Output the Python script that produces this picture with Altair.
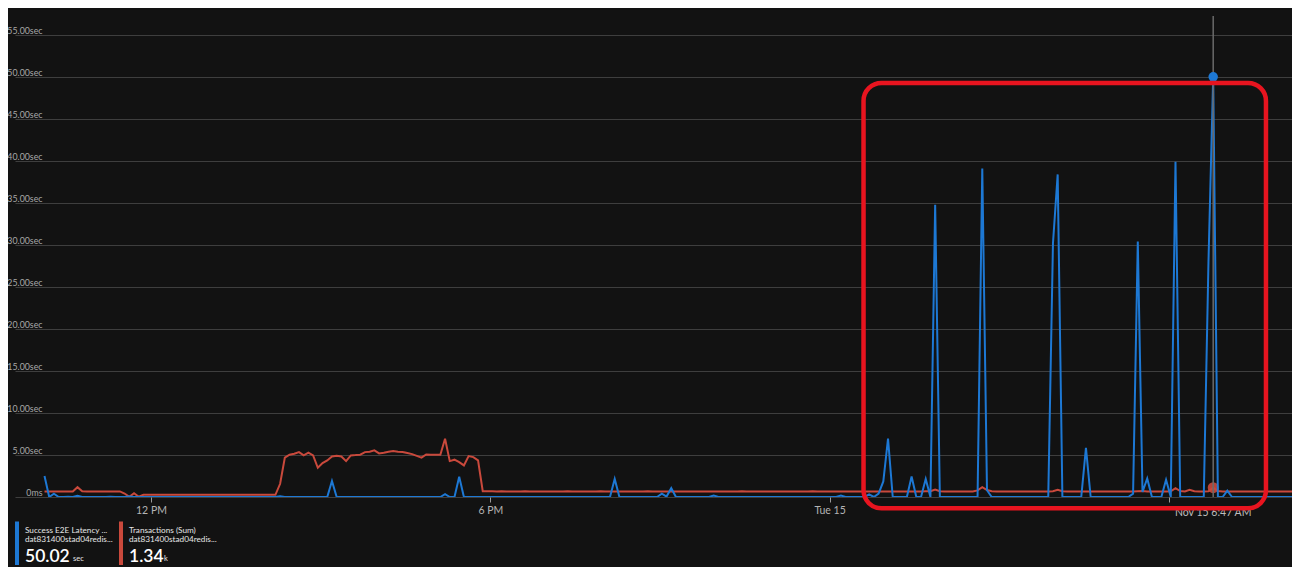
import altair as alt
import pandas as pd

# ---------------- data (5-minute samples, first sample Nov 14 2022 10:07) ----------------
START = "2022-11-14 10:07"
STEP_MIN = 5
DAY0 = "2022-11-14 00:00"

# Success E2E Latency (seconds)
latency_sec = [
    2.5, 0, 0.4, 0, 0, 0.02, 0, 0.15, 0, 0, 0, 0,              # 10:07
    0, 0, 0.03, 0, 0, 0, 0.05, 0, 0, 0, 0, 0,                  # 11:07
    0, 0, 0, 0, 0, 0, 0, 0, 0, 0, 0, 0,                        # 12:07
    0, 0, 0, 0, 0, 0, 0, 0, 0, 0, 0, 0,                        # 13:07
    0, 0, 0.1, 0, 0, 0, 0, 0, 0, 0, 0, 0,                      # 14:07
    0, 1.9, 0, 0, 0, 0, 0, 0, 0, 0, 0, 0,                      # 15:07
    0, 0, 0, 0, 0, 0, 0, 0, 0, 0, 0, 0,                        # 16:07
    0, 0.35, 0, 0, 2.4, 0, 0, 0, 0, 0, 0, 0,                   # 17:07
    0, 0, 0, 0, 0, 0, 0, 0, 0, 0, 0, 0,                        # 18:07
    0, 0, 0, 0, 0, 0, 0, 0, 0, 0, 0, 0,                        # 19:07
    0, 2.15, 0, 0, 0, 0, 0, 0, 0, 0, 0, 0.4,                   # 20:07
    0.05, 1.05, 0, 0, 0, 0, 0, 0, 0, 0, 0.18, 0,               # 21:07
    0, 0, 0, 0, 0, 0, 0, 0, 0, 0, 0, 0,                        # 22:07
    0, 0, 0, 0, 0, 0, 0, 0, 0, 0, 0, 0,                        # 23:07
    0, 0.18, 0, 0, 0, 0, 0, 0.3, 0, 0.4, 1.85, 6.95,           # 00:07
    0, 0, 0, 0, 2.45, 0, 0, 2.15, 0, 34.8, 0, 0,               # 01:07
    0, 0, 0, 0, 0, 0, 0, 39.1, 0.8, 0, 0, 0,                   # 02:07
    0, 0, 0, 0, 0, 0, 0, 0, 0, 0, 30.2, 38.4,                  # 03:07
    0, 0, 0, 0, 0, 5.85, 0, 0, 0, 0, 0, 0,                     # 04:07
    0, 0, 0, 0.4, 30.4, 0.6, 2.2, 0, 0, 0, 2.05, 0,            # 05:07
    39.9, 0, 0, 0, 0, 0, 0, 28.0, 50.02, 0, 0, 0.75,           # 06:07
    0, 0, 0, 0, 0, 0, 0, 0, 0, 0, 0, 0,                        # 07:07
    0, 0, 0, 0,                                                # 08:07
]

# Transactions (Sum)
transactions = [
    790, 790, 790, 790, 790, 790, 800, 1410, 810, 800, 800, 800,           # 10:07
    800, 800, 800, 800, 800, 500, 20, 550, 30, 320, 320, 320,             # 11:07
    320, 320, 320, 320, 320, 320, 320, 320, 320, 320, 320, 320,           # 12:07
    320, 320, 320, 320, 320, 320, 320, 320, 320, 320, 320, 320,           # 13:07
    320, 320, 1900, 5650, 6080, 6220, 6450, 5980, 6370, 5980, 4200, 4870, # 14:07
    5260, 5830, 5930, 5830, 5160, 5980, 6020, 6080, 6450, 6510, 6700, 6260,  # 15:07
    6370, 6510, 6600, 6510, 6450, 6310, 6160, 5900, 5650, 6120, 6080, 6080,  # 16:07
    6080, 8380, 5160, 5360, 5010, 4540, 5880, 5730, 5260, 840, 820, 810,  # 17:07
    800, 810, 800, 790, 800, 800, 810, 800, 800, 790, 800, 800,           # 18:07
    800, 800, 800, 810, 800, 800, 800, 790, 800, 800, 810, 800,           # 19:07
    800, 800, 800, 800, 790, 800, 800, 800, 810, 800, 800, 800,           # 20:07
    800, 800, 800, 800, 800, 790, 800, 800, 800, 800, 800, 800,           # 21:07
    800, 800, 800, 800, 810, 800, 800, 800, 790, 800, 800, 800,           # 22:07
    800, 800, 800, 800, 800, 800, 800, 810, 800, 800, 800, 800,           # 23:07
    800, 800, 800, 800, 800, 800, 800, 800, 800, 800, 800, 800,           # 00:07
    800, 800, 800, 800, 800, 800, 800, 820, 820, 1080, 820, 800,          # 01:07
    800, 800, 800, 800, 800, 800, 950, 1400, 1000, 820, 800, 800,         # 02:07
    800, 800, 800, 800, 800, 800, 800, 800, 800, 800, 820, 1040,          # 03:07
    820, 800, 800, 800, 800, 800, 800, 800, 800, 800, 800, 800,           # 04:07
    800, 800, 800, 800, 820, 850, 800, 800, 800, 800, 800, 820,           # 05:07
    1270, 850, 800, 1040, 820, 800, 800, 820, 1340, 850, 800, 800,        # 06:07
    800, 800, 800, 800, 800, 800, 800, 800, 800, 800, 800, 800,           # 07:07
    800, 800, 800, 800,                                                   # 08:07
]

x_tick_hours = [12, 18, 24, 30]
x_tick_labels = ["12 PM", "6 PM", "Tue 15", ""]
y_tick_values = [0, 5, 10, 15, 20, 25, 30, 35, 40, 45, 50, 55]

hover_time = "2022-11-15 06:47"
hover_label = "Nov 15 6:47 AM"
hover_latency = 50.02
hover_transactions = 1340

box_times = ["2022-11-15 00:36", "2022-11-15 07:43"]
box_secs = [49.3, -1.35]

legend_latency = ["Success E2E Latency ...", "dat831400stad04redis...", "50.02", "sec"]
legend_trans = ["Transactions (Sum)", "dat831400stad04redis...", "1.34", "k"]

# ---------------- tables ----------------
def hours(ts):
    return (pd.Timestamp(ts) - pd.Timestamp(DAY0)).total_seconds() / 3600.0

times = pd.date_range(START, periods=len(latency_sec), freq=f"{STEP_MIN}min")
df = pd.DataFrame({
    "h": [(t - pd.Timestamp(DAY0)).total_seconds() / 3600.0 for t in times],
    "latency": latency_sec,
    "transactions": transactions,
})
hover_df = pd.DataFrame({"h": [hours(hover_time)], "latency": [hover_latency],
                         "transactions": [hover_transactions], "label": [hover_label]})
box_df = pd.DataFrame({"h": [hours(box_times[0])], "h2": [hours(box_times[1])],
                       "y0": [box_secs[0]], "y1": [box_secs[1]]})
one = pd.DataFrame({"a": [0]})

# ---------------- style ----------------
BG = "#121212"
BLUE = "#1d78d4"
RED = "#c9493c"
BOXRED = "#e8141f"
FONT = "Lato"
W, H = 1277, 483

label_expr = " : ".join(
    f"datum.value == {v} ? '{t}'" for v, t in zip(x_tick_hours, x_tick_labels)
) + " : ''"

xscale = alt.Scale(domain=[9.595, 32.177], nice=False, zero=False)
yscale = alt.Scale(domain=[0, 57.5], nice=False)
rscale = alt.Scale(domain=[0, 69400], nice=False)

X = alt.X("h:Q", scale=xscale, title=None,
          axis=alt.Axis(values=x_tick_hours, labelExpr=label_expr, grid=False,
                        domain=False, ticks=True, tickSize=5, tickColor="#9a9a9a",
                        labelColor="#b4b4b4", labelFontSize=10.5, labelPadding=3,
                        labelFlush=False, labelFont=FONT))

y_axis = alt.Axis(values=y_tick_values,
                  labelExpr="datum.value == 0 ? '0ms' : format(datum.value, '.2f') + 'sec'",
                  grid=True, gridColor="#3e3e3e", gridWidth=1, domain=False, ticks=False,
                  tickSize=0, labelPadding=-27, labelAlign="right", labelBaseline="alphabetic",
                  labelOffset=-2, labelColor="#a8a8a8", labelFontSize=8.8, labelFont=FONT,
                  title=None)

# red series (own hidden scale)
red_line = alt.Chart(df).mark_line(color=RED, strokeWidth=2, clip=True).encode(
    x=X, y=alt.Y("transactions:Q", scale=rscale, axis=None))
red_dot = alt.Chart(hover_df).mark_circle(color=RED, size=120, opacity=0.9).encode(
    x=X, y=alt.Y("transactions:Q", scale=rscale, axis=None))
red_layer = alt.layer(red_line, red_dot)

# blue series + annotations
blue_line = alt.Chart(df).mark_line(color=BLUE, strokeWidth=2, clip=True).encode(
    x=X, y=alt.Y("latency:Q", scale=yscale, axis=y_axis))
cross = alt.Chart(hover_df).mark_rule(color="#6a6a6a", strokeWidth=1.5).encode(
    x=X, y=alt.value(2), y2=alt.value(H))
blue_dot = alt.Chart(hover_df).mark_circle(color=BLUE, size=90, opacity=1).encode(
    x=X, y=alt.Y("latency:Q", scale=yscale))
hover_text = alt.Chart(hover_df).mark_text(
    font=FONT, fontSize=10.5, color="#bdbdbd", baseline="middle", align="center").encode(
    x=X, y=alt.value(H + 16), text="label:N")
box = alt.Chart(box_df).mark_rect(
    fill="transparent", stroke=BOXRED, strokeWidth=4.5, cornerRadius=18).encode(
    x=X, x2="h2:Q", y=alt.Y("y0:Q", scale=yscale), y2="y1:Q")
blue_layer = alt.layer(blue_line, cross, blue_dot, hover_text, box)

# legend (custom, below the plot)
def txt(s, x, y, size, color, weight="normal"):
    return alt.Chart(one).mark_text(
        text=s, font=FONT, fontSize=size, color=color, fontWeight=weight,
        align="left", baseline="alphabetic").encode(x=alt.value(x), y=alt.value(y))

def bar(x, color):
    return alt.Chart(one).mark_rect(color=color).encode(
        x=alt.value(x), x2=alt.value(x + 4), y=alt.value(H + 24.5), y2=alt.value(H + 68))

legend = alt.layer(
    bar(0, BLUE),
    txt(legend_latency[0], 10, H + 36.3, 8.2, "#e6e6e6"),
    txt(legend_latency[1], 10, H + 44.7, 8.2, "#e6e6e6"),
    txt(legend_latency[2], 10, H + 64.7, 17.5, "#ffffff", 600),
    txt(legend_latency[3], 58, H + 64, 7.5, "#e6e6e6"),
    bar(104, RED),
    txt(legend_trans[0], 114, H + 36.3, 8.2, "#e6e6e6"),
    txt(legend_trans[1], 114, H + 44.7, 8.2, "#e6e6e6"),
    txt(legend_trans[2], 114, H + 64.7, 17.5, "#ffffff", 600),
    txt(legend_trans[3], 149, H + 64, 7.5, "#e6e6e6"),
)

chart = alt.layer(red_layer, blue_layer, legend).resolve_scale(y="independent").properties(
    width=W, height=H, background=BG,
    padding={"left": 7, "top": 6, "right": 0, "bottom": 70},
    autosize=alt.AutoSizeParams(type="none"),
).configure_view(strokeWidth=0)

chart.save("out.html", embed_options={"renderer": "svg", "actions": False})
